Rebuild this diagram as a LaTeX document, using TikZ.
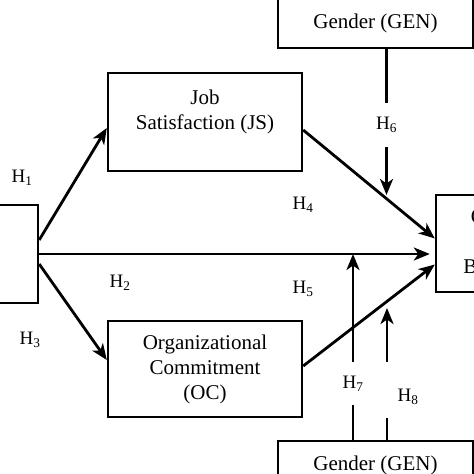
\documentclass[tikz,border=0pt]{standalone}
\usepackage{fontspec}
\setmainfont{Liberation Serif}
\usetikzlibrary{arrows.meta,calc}
\begin{document}
\begin{tikzpicture}[x=1pt,y=-1pt,
  box/.style={draw=black, line width=2.4pt, minimum width=194pt, inner sep=0pt, align=center, font=\fontsize{21}{25}\selectfont},
  arr/.style={line width=2.8pt, -{Stealth[length=16pt,width=13pt,inset=4.5pt]}},
  ln/.style={line width=2.8pt},
  hlab/.style={inner sep=0pt, font=\fontsize{19}{22}\selectfont}]
\clip (0,0) rectangle (474,474);
\fill[white] (0,0) rectangle (474,474);
% boxes
\node[box, minimum height=98pt] (iv) at (-59,254) {};
\node[box, minimum height=98pt] (js) at (205,122) {Job\\Satisfaction (JS)\\~};
\node[box, minimum height=96pt] (oc) at (205,369) {Organizational\\Commitment\\(OC)};
\node[box, minimum height=97pt] (dv) at (533,243.5) {Organizational\\Citizenship\\Behavior (OCB)};
\node[box, minimum width=195pt, minimum height=49pt] (gt) at (375.5,23.5) {Gender (GEN)};
\node[box, minimum width=195pt, minimum height=48pt] (gb) at (375.5,465) {Gender (GEN)};
% labels
\node[hlab] (h1) at (22,178) {H\textsubscript{1}};
\node[hlab] (h2) at (120,283) {H\textsubscript{2}};
\node[hlab] (h3) at (30,340) {H\textsubscript{3}};
\node[hlab] (h4) at (303,205) {H\textsubscript{4}};
\node[hlab] (h5) at (303,289) {H\textsubscript{5}};
\node[hlab, minimum height=44pt] (h6) at (386.5,125) {H\textsubscript{6}};
\node[hlab, minimum height=43pt] (h7) at (353,383.5) {H\textsubscript{7}};
\node[hlab] (h8) at (408,397) {H\textsubscript{8}};
% free ends
\coordinate (c6) at (386.5,195);
\coordinate (c8bot) at (387,418);
\coordinate (c8top) at (387,362);
\coordinate (c8tip) at (387,308);
% main paths
\draw[arr] ([yshift=14pt]iv.east) -- ([yshift=-6pt]js.west);
\draw[arr, shorten >=5pt] (iv.east) -- (iv.east -| dv.west);
\draw[arr] ([yshift=-10pt]iv.east) -- ([yshift=9pt]oc.west);
\draw[arr] ([yshift=-8pt]js.east) -- ([yshift=5pt]dv.west);
\draw[arr] ([yshift=3pt]oc.east) -- ([yshift=-21pt]dv.west);
% moderators
\draw[ln] ([xshift=11pt]gt.south) -- (h6.north);
\draw[arr] (h6.south) -- (c6);
\draw[ln] ([xshift=-22.5pt]gb.north) -- (h7.south);
\draw[arr] (h7.north) -- (h7.north |- iv.east);
\draw[ln] ([xshift=11.5pt]gb.north) -- (c8bot);
\draw[arr] (c8top) -- (c8tip);
\end{tikzpicture}
\end{document}
